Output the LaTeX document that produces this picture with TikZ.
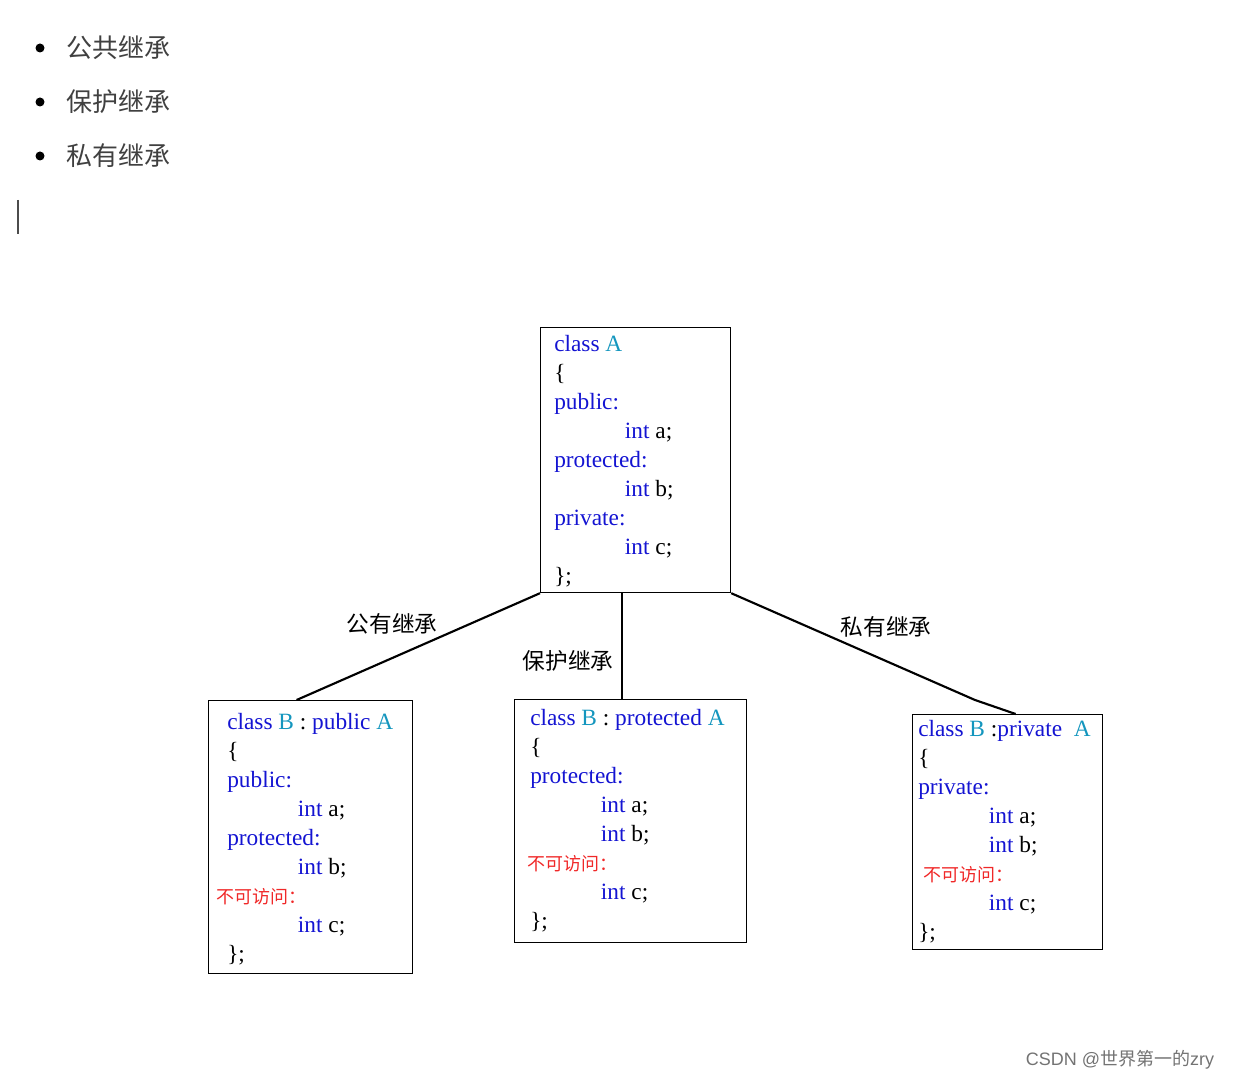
\documentclass[tikz,border=0pt]{standalone}
\usepackage{fontspec}
\setmainfont{Liberation Serif}
\newfontfamily\cjk{Noto Sans CJK SC}
\newfontfamily\wmfont{Liberation Sans}
\usetikzlibrary{positioning}
\definecolor{kwblue}{RGB}{20,20,210}
\definecolor{clteal}{RGB}{20,150,190}
\definecolor{nored}{RGB}{240,40,40}
\newcommand{\kw}[1]{\textcolor{kwblue}{#1}}
\newcommand{\cl}[1]{\textcolor{clteal}{#1}}
\newcommand{\ind}{\hspace*{53pt}}
\newcommand{\noacc}{\hspace*{-8pt}{\cjk\fontsize{13.5}{21.75}\selectfont\textcolor{nored}{不可访问：}}}
\tikzset{
  classbox/.style={draw, line width=0.9pt, anchor=north west, inner sep=0pt},
  code/.style={anchor=north west, align=left, inner sep=0pt,
    font=\fontsize{17.5}{21.75}\selectfont},
  link/.style={line width=1.6pt},
  linklabel/.style={font=\cjk\fontsize{17}{18}\selectfont},
  bullet/.style={font=\cjk\fontsize{19.5}{20}\selectfont\color{black!75}, anchor=west}
}
\begin{document}
\begin{tikzpicture}[x=0.75pt,y=-0.75pt]
\useasboundingbox (0,0) rectangle (1233,1080);
% list on top
\foreach \t [count=\i] in {公共继承,保护继承,私有继承}
  \node[bullet] (item\i) at (62,48+54*\i-54) {\t};
\foreach \i in {1,2,3}
  \fill (40,48+54*\i-54) circle (4.5);
\draw[line width=1pt, black!70] (18,200) -- (18,234);
% base class
\node[classbox, minimum width=142.5pt, minimum height=198.75pt] (boxA) at (540,327) {};
\node[code] (codeA) at (554,335) {\kw{class} \cl{A}\\ \{\\ \kw{public:}\\ \ind\kw{int} a;\\
  \kw{protected:}\\ \ind\kw{int} b;\\ \kw{private:}\\ \ind\kw{int} c;\\ \};};
% derived classes
\node[classbox, minimum width=153pt, minimum height=204.75pt] (boxPub) at (208,700) {};
\node[code] (codePub) at (227,713) {\kw{class} \cl{B} : \kw{public} \cl{A}\\ \{\\ \kw{public:}\\ \ind\kw{int} a;\\
  \kw{protected:}\\ \ind\kw{int} b;\\ \noacc\\ \ind\kw{int} c;\\ \};};
\node[classbox, minimum width=174pt, minimum height=182.25pt] (boxPro) at (514,699) {};
\node[code] (codePro) at (530,709) {\kw{class} \cl{B} : \kw{protected} \cl{A}\\ \{\\ \kw{protected:}\\ \ind\kw{int} a;\\
  \ind\kw{int} b;\\ \hspace*{6pt}\noacc\\ \ind\kw{int} c;\\ \};};
\node[classbox, minimum width=142.5pt, minimum height=176.25pt] (boxPri) at (912,714) {};
\node[code] (codePri) at (918,720) {\kw{class} \cl{B} :\kw{private}\ \ \cl{A}\\ \{\\ \kw{private:}\\ \ind\kw{int} a;\\
  \ind\kw{int} b;\\ \hspace*{12pt}\noacc\\ \ind\kw{int} c;\\ \};};
% inheritance lines
\draw[link] (boxA.south west) -- ([xshift=-10.5pt]boxPub.north);
\draw[link] ([xshift=-10.5pt]boxA.south) -- ([xshift=-6.75pt]boxPro.north);
\draw[link] (boxA.south east) -- (975,700) -- ([xshift=6pt]boxPri.north);
\node[linklabel] (lblPub) at (392,624) {公有继承};
\node[linklabel] (lblPro) at (568,661) {保护继承};
\node[linklabel] (lblPri) at (886,627) {私有继承};
\node[font=\wmfont\fontsize{13.5}{15}\selectfont, text=black!55] (mark) at (1120,1060) {CSDN @{\cjk 世界第一的}zry};
\end{tikzpicture}
\end{document}
